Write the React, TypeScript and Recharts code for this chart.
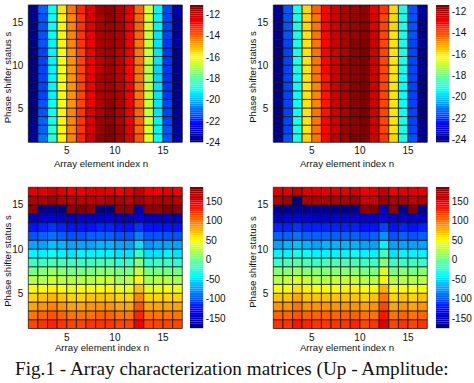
import React from 'react';
import { ComposedChart, XAxis, YAxis, ReferenceArea, Label, Scatter } from 'recharts';

// array element index n (columns) and phase shifter status s (rows)
const elementIndex = [1, 2, 3, 4, 5, 6, 7, 8, 9, 10, 11, 12, 13, 14, 15, 16];
const shifterStatus = [1, 2, 3, 4, 5, 6, 7, 8, 9, 10, 11, 12, 13, 14, 15, 16];
const axisTicks = [5, 10, 15];
const amplitudeTicks = [-24, -22, -20, -18, -16, -14, -12];
const phaseTicks = [-150, -100, -50, 0, 50, 100, 150];

// amplitude (dB), one row per status s = 1..16
const amplitudeLeft = [
  [-23.5, -20.9, -18.6, -15.8, -14.4, -13.3, -12.3, -11.5, -11.1, -11.6, -12.5, -13.9, -16.3, -19.1, -21.2, -23.3],
  [-23.6, -21.0, -18.7, -15.8, -14.4, -13.4, -12.4, -11.6, -11.3, -11.7, -12.5, -14.0, -16.4, -19.2, -21.3, -23.4],
  [-23.7, -21.1, -18.9, -15.9, -14.5, -13.5, -12.5, -11.7, -11.4, -11.8, -12.6, -14.0, -16.5, -19.3, -21.4, -23.5],
  [-23.8, -21.2, -19.0, -15.9, -14.5, -13.5, -12.5, -11.8, -11.5, -11.8, -12.6, -14.1, -16.6, -19.4, -21.5, -23.5],
  [-23.8, -21.3, -19.1, -16.0, -14.6, -13.6, -12.6, -11.8, -11.5, -11.9, -12.7, -14.1, -16.6, -19.4, -21.5, -23.6],
  [-23.9, -21.4, -19.2, -16.0, -14.6, -13.6, -12.6, -11.9, -11.6, -11.9, -12.7, -14.2, -16.7, -19.5, -21.6, -23.6],
  [-23.9, -21.4, -19.2, -16.1, -14.6, -13.6, -12.7, -11.9, -11.6, -12.0, -12.7, -14.2, -16.7, -19.5, -21.6, -23.7],
  [-24.0, -21.5, -19.3, -16.1, -14.7, -13.7, -12.7, -11.9, -11.6, -12.0, -12.8, -14.2, -16.8, -19.6, -21.7, -23.7],
  [-23.9, -21.5, -19.3, -16.1, -14.7, -13.7, -12.7, -12.0, -11.7, -12.0, -12.8, -14.3, -16.8, -19.6, -21.7, -23.7],
  [-23.9, -21.4, -19.3, -16.0, -14.6, -13.6, -12.7, -12.0, -11.7, -12.0, -12.8, -14.3, -16.7, -19.5, -21.7, -23.6],
  [-23.8, -21.4, -19.2, -16.0, -14.6, -13.6, -12.6, -11.9, -11.7, -12.0, -12.7, -14.2, -16.7, -19.5, -21.6, -23.6],
  [-23.8, -21.3, -19.2, -15.9, -14.5, -13.5, -12.6, -11.9, -11.6, -11.9, -12.7, -14.2, -16.6, -19.4, -21.6, -23.5],
  [-23.7, -21.3, -19.1, -15.9, -14.5, -13.5, -12.6, -11.9, -11.6, -11.9, -12.6, -14.1, -16.6, -19.4, -21.5, -23.5],
  [-23.7, -21.2, -19.1, -15.8, -14.4, -13.4, -12.5, -11.8, -11.6, -11.9, -12.6, -14.1, -16.5, -19.3, -21.5, -23.4],
  [-23.6, -21.2, -19.0, -15.8, -14.4, -13.4, -12.5, -11.8, -11.5, -11.8, -12.6, -14.0, -16.5, -19.3, -21.4, -23.4],
  [-23.6, -21.1, -19.0, -15.7, -14.3, -13.3, -12.4, -11.7, -11.5, -11.8, -12.5, -14.0, -16.4, -19.2, -21.4, -23.3],
];

const amplitudeRight = [
  [-24.0, -21.6, -19.1, -15.8, -14.5, -13.1, -12.4, -11.9, -11.6, -11.5, -12.5, -13.8, -15.8, -19.1, -21.6, -23.9],
  [-24.1, -21.7, -19.2, -15.9, -14.5, -13.2, -12.5, -12.0, -11.7, -11.5, -12.5, -13.9, -15.9, -19.2, -21.7, -24.0],
  [-24.1, -21.7, -19.2, -15.9, -14.6, -13.2, -12.5, -12.0, -11.7, -11.6, -12.6, -13.9, -15.9, -19.2, -21.7, -24.0],
  [-24.2, -21.8, -19.3, -16.0, -14.6, -13.3, -12.6, -12.1, -11.8, -11.6, -12.6, -14.0, -16.0, -19.3, -21.8, -24.1],
  [-24.2, -21.8, -19.3, -16.0, -14.7, -13.3, -12.6, -12.1, -11.8, -11.6, -12.6, -14.0, -16.0, -19.3, -21.8, -24.1],
  [-24.2, -21.8, -19.3, -16.0, -14.7, -13.3, -12.6, -12.1, -11.8, -11.5, -12.6, -14.0, -16.0, -19.3, -21.8, -24.1],
  [-24.25, -21.8, -19.3, -16.0, -14.7, -13.3, -12.6, -12.1, -11.7, -11.5, -12.6, -14.0, -16.0, -19.3, -21.8, -24.1],
  [-24.2, -21.8, -19.3, -16.0, -14.6, -13.3, -12.6, -12.0, -11.7, -11.5, -12.6, -14.0, -16.0, -19.3, -21.8, -24.1],
  [-24.2, -21.7, -19.2, -15.9, -14.6, -13.2, -12.5, -12.0, -11.7, -11.4, -12.5, -13.9, -15.9, -19.2, -21.7, -24.0],
  [-24.1, -21.7, -19.2, -15.9, -14.6, -13.2, -12.5, -12.0, -11.7, -11.5, -12.5, -13.9, -15.9, -19.2, -21.7, -24.0],
  [-24.1, -21.7, -19.2, -15.9, -14.6, -13.2, -12.6, -12.1, -11.8, -11.6, -12.6, -13.9, -15.9, -19.2, -21.7, -24.0],
  [-24.1, -21.7, -19.2, -15.9, -14.6, -13.2, -12.6, -12.1, -11.8, -11.6, -12.6, -13.9, -15.9, -19.2, -21.7, -24.0],
  [-24.0, -21.6, -19.2, -15.9, -14.5, -13.2, -12.6, -12.1, -11.9, -11.7, -12.6, -13.9, -15.9, -19.2, -21.6, -23.9],
  [-24.0, -21.6, -19.1, -15.8, -14.5, -13.2, -12.6, -12.2, -11.9, -11.7, -12.7, -13.9, -15.8, -19.1, -21.6, -23.9],
  [-24.0, -21.6, -19.1, -15.8, -14.5, -13.1, -12.6, -12.2, -11.9, -11.8, -12.7, -13.9, -15.8, -19.1, -21.6, -23.9],
  [-23.9, -21.5, -19.1, -15.8, -14.4, -13.1, -12.6, -12.2, -12.0, -11.8, -12.7, -13.8, -15.8, -19.1, -21.5, -23.8],
];

// phase (deg), one row per status s = 1..16
const phaseLeft = [
  [118, 120, 126, 121, 116, 118, 119, 122, 123, 115, 116, 144, 114, 116, 118, 115],
  [100, 102, 108, 103, 98, 100, 101, 104, 105, 97, 98, 126, 96, 98, 100, 97],
  [84, 86, 92, 87, 82, 84, 85, 88, 89, 81, 82, 110, 80, 82, 84, 81],
  [67, 69, 75, 70, 65, 67, 68, 71, 72, 64, 65, 93, 63, 65, 67, 64],
  [46, 48, 54, 49, 44, 46, 47, 50, 51, 43, 44, 72, 42, 44, 46, 43],
  [25, 27, 33, 28, 23, 25, 26, 29, 30, 22, 23, 51, 21, 23, 25, 22],
  [4, 6, 12, 7, 2, 4, 5, 8, 9, 1, 2, 30, 0, 2, 4, 1],
  [-20, -18, -12, -17, -22, -20, -19, -16, -15, -23, -22, 6, -24, -22, -20, -23],
  [-45, -43, -37, -42, -47, -45, -44, -41, -40, -48, -47, -19, -49, -47, -45, -48],
  [-70, -68, -62, -67, -72, -70, -69, -66, -65, -73, -72, -46, -74, -72, -70, -73],
  [-97, -95, -89, -94, -99, -97, -96, -93, -92, -100, -99, -80, -101, -99, -97, -100],
  [-120, -118, -112, -117, -122, -120, -119, -116, -115, -123, -122, -108, -124, -122, -120, -123],
  [-148, -144, -140, -143, -148, -146, -145, -142, -141, -149, -148, -136, -150, -148, -146, -149],
  [178, -172, -168, -171, 180, 186, 179, -175, -173, 177, 178, -158, 176, 178, 181, 177],
  [165, 167, 172, 160, 158, 160, 162, 163, 164, 168, 161, 170, 160, 166, 167, 162],
  [148, 150, 156, 147, 145, 146, 148, 150, 151, 146, 147, 160, 144, 146, 148, 145],
];

const phaseRight = [
  [120, 122, 130, 124, 120, 121, 122, 123, 124, 118, 119, 148, 117, 120, 118, 120],
  [102, 104, 112, 106, 102, 103, 104, 105, 106, 100, 101, 130, 99, 102, 100, 102],
  [86, 88, 96, 90, 86, 87, 88, 89, 90, 84, 85, 114, 83, 86, 84, 86],
  [69, 71, 79, 73, 69, 70, 71, 72, 73, 67, 68, 97, 66, 69, 67, 69],
  [48, 50, 58, 52, 48, 49, 50, 51, 52, 46, 47, 76, 45, 48, 46, 48],
  [27, 29, 37, 31, 27, 28, 29, 30, 31, 25, 26, 55, 24, 27, 25, 27],
  [6, 8, 16, 10, 6, 7, 8, 9, 10, 4, 5, 34, 3, 6, 4, 6],
  [-18, -16, -8, -14, -18, -17, -16, -15, -14, -20, -19, 10, -21, -18, -20, -18],
  [-43, -41, -33, -39, -43, -42, -41, -40, -39, -45, -44, -15, -46, -43, -45, -43],
  [-68, -66, -58, -64, -68, -67, -66, -65, -64, -70, -69, -42, -71, -68, -70, -68],
  [-95, -93, -85, -91, -95, -94, -93, -92, -91, -97, -96, -76, -98, -95, -97, -95],
  [-118, -116, -108, -114, -118, -117, -116, -115, -114, -120, -119, -105, -121, -118, -120, -118],
  [-143, -141, -133, -139, -143, -142, -141, -140, -139, -145, -144, -135, -146, -143, -145, -143],
  [-168, -166, -160, -165, -168, -167, -166, -165, -164, 180, 186, -150, 179, -168, 181, -168],
  [168, 170, -175, 169, 166, 167, 168, 169, 170, 155, 157, 172, 164, 168, 163, 167],
  [150, 152, 162, 151, 148, 150, 151, 152, 153, 146, 147, 158, 145, 149, 147, 150],
];

const FONT = 'Liberation Sans, Arial, sans-serif';
const LEVELS = 64;

// matlab style jet
function jet(t: number) {
  const c = (x: number) => Math.round(255 * Math.max(0, Math.min(1, 1.5 - Math.abs(x))));
  return `rgb(${c(4 * t - 3)},${c(4 * t - 2)},${c(4 * t - 1)})`;
}

function levelColor(v: number, lo: number, hi: number) {
  const idx = Math.min(LEVELS - 1, Math.max(0, Math.floor(((v - lo) / (hi - lo)) * LEVELS)));
  return jet(idx / (LEVELS - 1));
}

function limits(m: number[][]) {
  const all = m.flat();
  return [Math.min(...all), Math.max(...all)];
}

const noDot = () => <g />;

type Box = { l: number; t: number; r: number; b: number };

function Heatmap({ matrix, x0, y0, plot, yLabel, xLabel }: {
  matrix: number[][]; x0: number; y0: number; plot: Box;
  yLabel: [number, number]; xLabel: [number, number];
}) {
  const [lo, hi] = limits(matrix);
  const width = plot.r - x0 + 2;
  const height = xLabel[1] - y0 + 12;
  const yAxisW = plot.l - x0;
  const xAxisH = height - (plot.b - y0);
  // cell centres, only used so the axes get a data extent
  const centres = shifterStatus.flatMap((s, i) =>
    elementIndex.map((n, j) => ({ n: n + 0.5, s: s + 0.5, v: matrix[i][j] })));
  return (
    <div style={{ position: 'absolute', left: x0, top: y0 }}>
      <ComposedChart width={width} height={height} data={centres}
        margin={{ top: plot.t - y0, right: width - (plot.r - x0), bottom: 0, left: 0 }}>
        <XAxis type="number" dataKey="n" domain={[1, 17]} ticks={axisTicks} height={xAxisH}
          axisLine={false} tickLine={false} tickSize={3} tickMargin={2} interval={0}
          tick={{ fontSize: 10, fill: '#111', fontFamily: FONT }}>
          <Label value="Array element index n" position="insideTop" offset={xLabel[1] - plot.b - 3.5}
            dx={xLabel[0] - (plot.l + plot.r) / 2} style={{ fontSize: 9.7, fill: '#111', fontFamily: FONT }} />
        </XAxis>
        <YAxis type="number" dataKey="s" domain={[1, 17]} ticks={axisTicks} width={yAxisW}
          axisLine={false} tickLine={false} tickSize={3} tickMargin={2} interval={0}
          tick={{ fontSize: 10, fill: '#111', fontFamily: FONT }}>
          <Label value="Phase shifter status s" angle={-90} position="center"
            dx={yLabel[0] - (x0 + yAxisW / 2)} dy={yLabel[1] - (plot.t + plot.b) / 2}
            style={{ fontSize: 9.6, fill: '#111', fontFamily: FONT }} />
        </YAxis>
        <Scatter data={centres} dataKey="s" shape={noDot} isAnimationActive={false} />
        {shifterStatus.map((s, i) =>
          elementIndex.map((n, j) => (
            <ReferenceArea key={`${s}-${n}`} x1={n} x2={n + 1} y1={s} y2={s + 1}
              fill={levelColor(matrix[i][j], lo, hi)} fillOpacity={1}
              stroke="#111" strokeWidth={0.8} strokeOpacity={0.9} />
          ))
        )}
      </ComposedChart>
    </div>
  );
}

function ColorBar({ matrix, ticks, x0, plot }: { matrix: number[][]; ticks: number[]; x0: number; plot: Box }) {
  const [lo, hi] = limits(matrix);
  const width = 38;
  const height = plot.b - plot.t + 12;
  const step = (hi - lo) / LEVELS;
  const bands = Array.from({ length: LEVELS }, (_, i) => i);
  const ends = [{ x: 0.5, y: lo }, { x: 0.5, y: hi }];
  return (
    <div style={{ position: 'absolute', left: x0, top: plot.t - 6 }}>
      <ComposedChart width={width} height={height} data={ends}
        margin={{ top: 6, right: 0, bottom: 6, left: 0 }}>
        <XAxis type="number" dataKey="x" domain={[0, 1]} hide />
        <YAxis type="number" dataKey="y" orientation="right" domain={[lo, hi]} ticks={ticks} interval={0}
          width={width - (plot.r - plot.l)} axisLine={false} tickLine={false} tickSize={1} tickMargin={1.5}
          tick={{ fontSize: 10, fill: '#111', fontFamily: FONT, textAnchor: 'start' }} />
        <Scatter data={ends} dataKey="y" shape={noDot} isAnimationActive={false} />
        {bands.map((i) => (
          <ReferenceArea key={i} x1={0} x2={1} y1={lo + i * step} y2={lo + (i + 1) * step}
            fill={jet(i / (LEVELS - 1))} fillOpacity={1} stroke="none" />
        ))}
      </ComposedChart>
    </div>
  );
}

export default function App() {
  return (
    <div style={{ position: 'absolute', left: 0, top: 0, width: 474, height: 383, background: '#fff', overflow: 'hidden' }}>
      <Heatmap matrix={amplitudeLeft} x0={0} y0={0} plot={{ l: 28.3, t: 5, r: 182.3, b: 142.3 }}
        yLabel={[7.5, 77.5]} xLabel={[101, 163.3]} />
      <ColorBar matrix={amplitudeLeft} ticks={amplitudeTicks} x0={190.3} plot={{ l: 190.3, t: 5, r: 203.5, b: 142.3 }} />

      <Heatmap matrix={amplitudeRight} x0={234} y0={0} plot={{ l: 273.3, t: 5, r: 427.3, b: 142.3 }}
        yLabel={[252.7, 77]} xLabel={[347, 163.3]} />
      <ColorBar matrix={amplitudeRight} ticks={amplitudeTicks} x0={435.7} plot={{ l: 435.7, t: 5, r: 449, b: 142.3 }} />

      <Heatmap matrix={phaseLeft} x0={0} y0={182} plot={{ l: 28.3, t: 187.3, r: 182.3, b: 328.5 }}
        yLabel={[8, 261]} xLabel={[102, 347.3]} />
      <ColorBar matrix={phaseLeft} ticks={phaseTicks} x0={190.3} plot={{ l: 190.3, t: 187.3, r: 203.5, b: 328.5 }} />

      <Heatmap matrix={phaseRight} x0={234} y0={182} plot={{ l: 273.3, t: 187.3, r: 427.3, b: 328.5 }}
        yLabel={[252.7, 262]} xLabel={[347, 347.3]} />
      <ColorBar matrix={phaseRight} ticks={phaseTicks} x0={435.7} plot={{ l: 435.7, t: 187.3, r: 449, b: 328.5 }} />

      <svg width={474} height={30} style={{ position: 'absolute', left: 0, top: 353 }}>
        <text x={15} y={22} fontFamily="Liberation Serif, Times New Roman, serif" fontSize={19.2} fill="#111">
          Fig.1 - Array characterization matrices (Up - Amplitude:
        </text>
      </svg>
    </div>
  );
}
